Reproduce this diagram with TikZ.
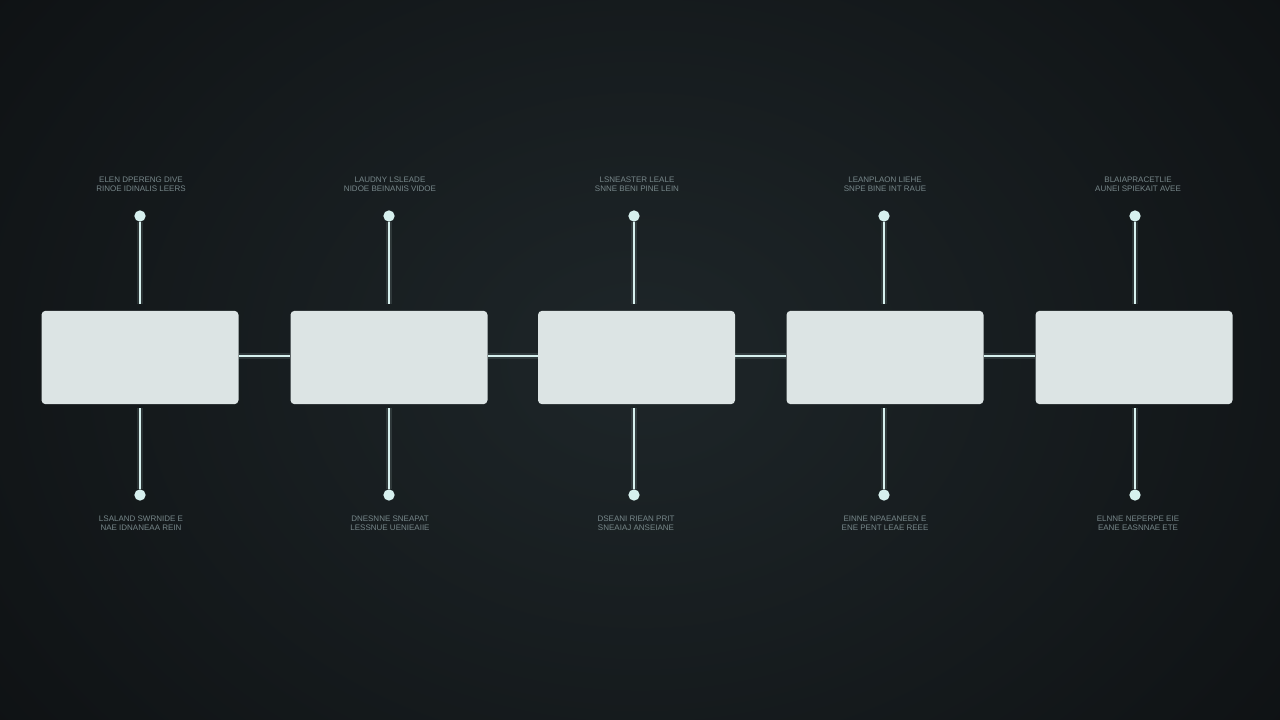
\documentclass[tikz,border=0pt]{standalone}
\usepackage{fontspec}
\setmainfont{Liberation Sans}
\begin{document}
\begin{tikzpicture}[x=0.75pt,y=-0.75pt,
  box/.style={draw=none,fill=boxfill,rounded corners=3pt,minimum width=147.75pt,minimum height=70pt,inner sep=0pt},
  dot/.style={circle,fill=linecol,minimum size=8.5pt,inner sep=0pt},
  link/.style={draw=linecol,line width=2pt},
  glow/.style={draw=linecol,line width=5pt,opacity=0.12},
  lbl/.style={text=labelcol,font=\fontsize{6}{7}\selectfont,align=center,inner sep=0pt}]
\definecolor{boxfill}{HTML}{DCE4E4}
\definecolor{linecol}{HTML}{D6F0EE}
\definecolor{labelcol}{HTML}{77878A}
\definecolor{bgin}{HTML}{1E2629}
\definecolor{bgout}{HTML}{0E1113}
\useasboundingbox (0,0) rectangle (1280,720);
\fill[bgout] (0,0) rectangle (1280,720);
\shade[inner color=bgin,outer color=bgout] (-200,-300) rectangle (1480,1020);
% boxes
\foreach \i/\x in {1/140,2/389,3/636.5,4/885,5/1134}{
  \node[box] (b\i) at (\x,357.5) {};
}
% horizontal connectors
\foreach \a/\b in {1/2,2/3,3/4,4/5}{
  \path[glow] (b\a.east) ++(0,-1.5) coordinate (h\a) -- (b\b.west |- h\a);
  \path[link] (h\a) -- (b\b.west |- h\a);
}
% vertical stems
\foreach \i/\x in {1/140,2/389,3/634,4/884,5/1135}{
  \node[dot] (t\i) at (\x,216) {};
  \node[dot] (d\i) at (\x,495) {};
  \coordinate (tu\i) at (\x,304);
  \coordinate (du\i) at (\x,408);
  \path[glow] (t\i) -- (tu\i);
  \path[glow] (d\i) -- (du\i);
  \path[link] (t\i) -- (tu\i);
  \path[link] (d\i) -- (du\i);
}
% labels
\node[lbl] (lt1) at (141,184) {ELEN DPERENG DIVE\\RINOE IDINALIS LEERS};
\node[lbl] (lt2) at (390,184) {LAUDNY LSLEADE\\NIDOE BEINANIS VIDOE};
\node[lbl] (lt3) at (637,184) {LSNEASTER LEALE\\SNNE BENI PINE LEIN};
\node[lbl] (lt4) at (885,184) {LEANPLAON LIEHE\\SNPE BINE INT RAUE};
\node[lbl] (lt5) at (1138,184) {BLAIAPRACETLIE\\AUNEI SPIEKAIT AVEE};
\node[lbl] (lb1) at (141,523) {LSALAND SWRNIDE E\\NAE IDNANEAA REIN};
\node[lbl] (lb2) at (390,523) {DNESNNE SNEAPAT\\LESSNUE UENIEAIIE};
\node[lbl] (lb3) at (636,523) {DSEANI RIEAN PRIT\\SNEAIAJ ANSEIANE};
\node[lbl] (lb4) at (885,523) {EINNE NPAEANEEN E\\ENE PENT LEAE REEE};
\node[lbl] (lb5) at (1138,523) {ELNNE NEPERPE EIE\\EANE EASNNAE ETE};
\end{tikzpicture}
\end{document}
